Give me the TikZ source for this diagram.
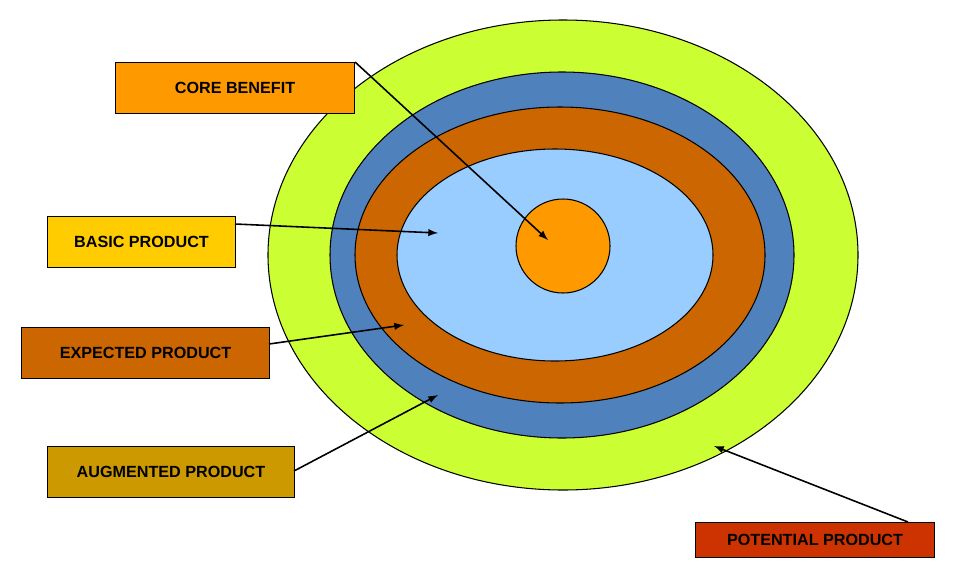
\documentclass[tikz,border=0pt]{standalone}
\usepackage{fontspec}
\setmainfont{Liberation Sans}
\begin{document}
\begin{tikzpicture}[x=0.02cm,y=-0.02cm,
  ring/.style={draw=black,line width=0.6pt},
  lbl/.style={draw=black,line width=0.6pt,font=\bfseries\fontsize{9.2}{11}\selectfont,inner sep=0pt,anchor=north west},
  arr/.style={-latex,line width=0.9pt}]
\useasboundingbox (0,0) rectangle (959,575);
\definecolor{cgreen}{HTML}{CCFF33}
\definecolor{cblue}{HTML}{4F81BD}
\definecolor{cbrown}{HTML}{CC6600}
\definecolor{clight}{HTML}{99CCFF}
\definecolor{corange}{HTML}{FF9900}
\definecolor{cyellow}{HTML}{FFCC00}
\definecolor{cgold}{HTML}{CC9900}
\definecolor{cred}{HTML}{CC3300}
\filldraw[ring,fill=cgreen] (563,255) ellipse [x radius=295,y radius=235];
\filldraw[ring,fill=cblue] (562,255) ellipse [x radius=232,y radius=183];
\filldraw[ring,fill=cbrown] (560,255) ellipse [x radius=205,y radius=148];
\filldraw[ring,fill=clight] (555,255) ellipse [x radius=158,y radius=106];
\filldraw[ring,fill=corange] (563,246) circle [radius=47];
\node[lbl,fill=corange,minimum width=239*0.02cm,minimum height=51*0.02cm] (cb) at (115,62) {CORE BENEFIT};
\node[lbl,fill=cyellow,minimum width=188*0.02cm,minimum height=51*0.02cm] (bp) at (47,216) {BASIC PRODUCT};
\node[lbl,fill=cbrown,minimum width=248*0.02cm,minimum height=51*0.02cm] (ep) at (21,327) {EXPECTED PRODUCT};
\node[lbl,fill=cgold,minimum width=247*0.02cm,minimum height=51*0.02cm] (ap) at (47,446) {AUGMENTED PRODUCT};
\node[lbl,fill=cred,minimum width=239*0.02cm,minimum height=35*0.02cm] (pp) at (695,522) {POTENTIAL PRODUCT};
\coordinate (t1) at (548,240);
\coordinate (t2) at (438,233);
\coordinate (t3) at (404,325);
\coordinate (t4) at (438,395);
\coordinate (t5) at (714,446);
\coordinate (s2) at (235,224);
\coordinate (s3) at (269,344);
\coordinate (s4) at (294,471);
\coordinate (s5) at (908,522);
\draw[arr] (cb.north east) -- (t1);
\draw[arr] (s2) -- (t2);
\draw[arr] (s3) -- (t3);
\draw[arr] (s4) -- (t4);
\draw[arr] (s5) -- (t5);
\end{tikzpicture}
\end{document}
